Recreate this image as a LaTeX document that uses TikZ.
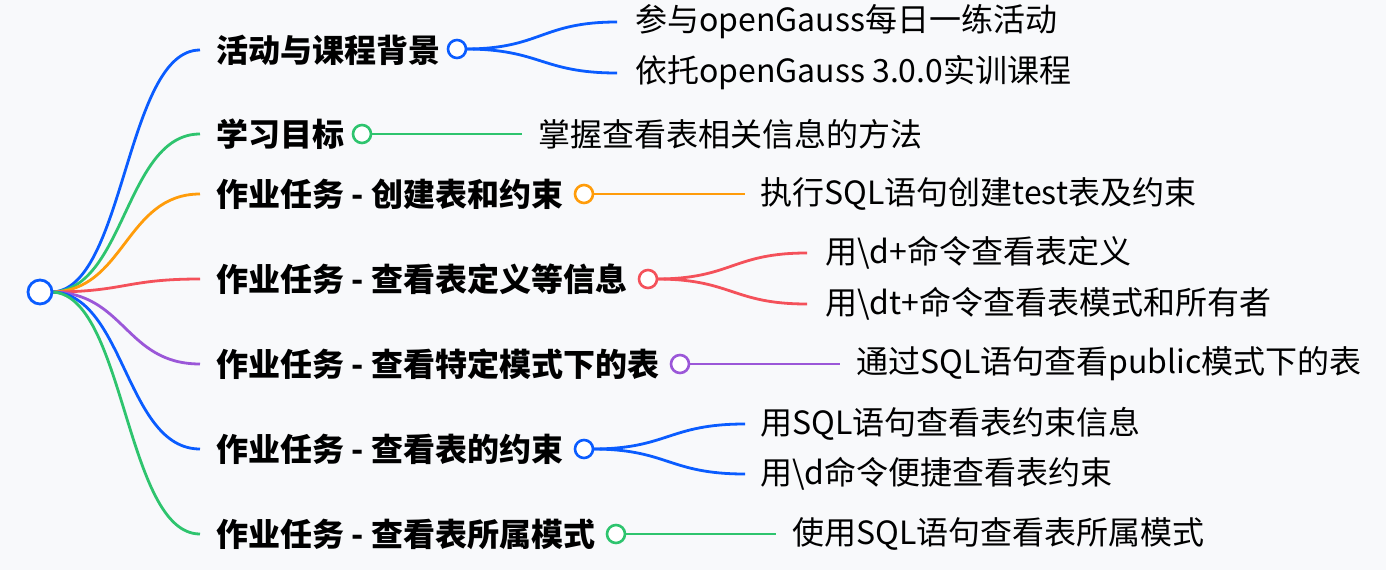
\documentclass[tikz,border=0pt]{standalone}
\usepackage{fontspec}
\setmainfont{Noto Sans CJK SC}
\definecolor{bgc}{HTML}{F8F9FB}
\definecolor{cblue}{HTML}{0A5CFF}
\definecolor{cgreen}{HTML}{2EC46E}
\definecolor{corange}{HTML}{FF9C0A}
\definecolor{cred}{HTML}{F4515A}
\definecolor{cpurple}{HTML}{9B57D8}
\begin{document}
\begin{tikzpicture}[x=1pt,y=-1pt,
  lone/.style={font=\fontsize{32}{38}\selectfont\bfseries, anchor=west, inner sep=0pt, text=black},
  ltwo/.style={font=\fontsize{32}{38}\selectfont, anchor=west, inner sep=0pt, text=black},
  dot/.style={circle, draw, fill=white, line width=2.6pt, minimum size=18pt, inner sep=0pt},
  rootdot/.style={circle, draw=cblue, fill=white, line width=2.8pt, minimum size=24pt, inner sep=0pt},
  link/.style={line width=2.8pt}]
\fill[bgc] (0,0) rectangle (1386,570);
\useasboundingbox (0,0) rectangle (1386,570);

% root
\coordinate (r) at (40,292);
\coordinate (rs) at (51,292);
% level-1 end points
\coordinate (e1) at (200,50);
\coordinate (e2) at (200,134);
\coordinate (e3) at (200,194);
\coordinate (e4) at (200,279);
\coordinate (e5) at (200,364);
\coordinate (e6) at (200,449);
\coordinate (e7) at (200,534);

\draw[link,cblue]   (rs) .. controls (125,292) and (125,50)  .. (e1);
\draw[link,cgreen]  (rs) .. controls (125,292) and (125,134) .. (e2);
\draw[link,corange] (rs) .. controls (125,292) and (125,194) .. (e3);
\draw[link,cred]    (rs) .. controls (125,292) and (125,279) .. (e4);
\draw[link,cpurple] (rs) .. controls (125,292) and (125,364) .. (e5);
\draw[link,cblue]   (rs) .. controls (125,292) and (125,449) .. (e6);
\draw[link,cgreen]  (rs) .. controls (125,292) and (125,534) .. (e7);
\node[rootdot] (root) at (r) {};

% level-1 texts
\node[lone] (t1) at (216,50)  {活动与课程背景};
\node[lone] (t2) at (216,134) {学习目标};
\node[lone] (t3) at (216,194) {作业任务 - 创建表和约束};
\node[lone] (t4) at (216,279) {作业任务 - 查看表定义等信息};
\node[lone] (t5) at (216,364) {作业任务 - 查看特定模式下的表};
\node[lone] (t6) at (216,449) {作业任务 - 查看表的约束};
\node[lone] (t7) at (216,534) {作业任务 - 查看表所属模式};

% level-2 line ends
\coordinate (f11) at (617,22);
\coordinate (f12) at (617,73);
\coordinate (f21) at (522,134);
\coordinate (f31) at (745,194);
\coordinate (f41) at (807,253);
\coordinate (f42) at (807,304);
\coordinate (f51) at (840,364);
\coordinate (f61) at (745,424);
\coordinate (f62) at (745,474);
\coordinate (f71) at (776,534);

% circles positions
\coordinate (p1) at (457,49);
\coordinate (p2) at (362,134);
\coordinate (p3) at (584,194);
\coordinate (p4) at (648,279);
\coordinate (p5) at (680,364);
\coordinate (p6) at (584,449);
\coordinate (p7) at (616,534);

\draw[link,cblue]   (p1) ++(8,0) .. controls (541,49)  and (541,22)  .. (f11);
\draw[link,cblue]   (p1) ++(8,0) .. controls (541,49)  and (541,73)  .. (f12);
\draw[link,cgreen]  (p2) -- (f21);
\draw[link,corange] (p3) -- (f31);
\draw[link,cred]    (p4) ++(8,0) .. controls (732,279) and (732,253) .. (f41);
\draw[link,cred]    (p4) ++(8,0) .. controls (732,279) and (732,304) .. (f42);
\draw[link,cpurple] (p5) -- (f51);
\draw[link,cblue]   (p6) ++(8,0) .. controls (668,449) and (668,424) .. (f61);
\draw[link,cblue]   (p6) ++(8,0) .. controls (668,449) and (668,474) .. (f62);
\draw[link,cgreen]  (p7) -- (f71);

\node[dot,draw=cblue]   (c1) at (p1) {};
\node[dot,draw=cgreen]  (c2) at (p2) {};
\node[dot,draw=corange] (c3) at (p3) {};
\node[dot,draw=cred]    (c4) at (p4) {};
\node[dot,draw=cpurple] (c5) at (p5) {};
\node[dot,draw=cblue]   (c6) at (p6) {};
\node[dot,draw=cgreen]  (c7) at (p7) {};

% level-2 texts
\node[ltwo] (u11) at (635,22)  {参与openGauss每日一练活动};
\node[ltwo] (u12) at (635,73)  {依托openGauss 3.0.0实训课程};
\node[ltwo] (u21) at (538,134) {掌握查看表相关信息的方法};
\node[ltwo] (u31) at (760,194) {执行SQL语句创建test表及约束};
\node[ltwo] (u41) at (825,253) {用\textbackslash d+命令查看表定义};
\node[ltwo] (u42) at (825,304) {用\textbackslash dt+命令查看表模式和所有者};
\node[ltwo] (u51) at (856,364) {通过SQL语句查看public模式下的表};
\node[ltwo] (u61) at (760,424) {用SQL语句查看表约束信息};
\node[ltwo] (u62) at (760,474) {用\textbackslash d命令便捷查看表约束};
\node[ltwo] (u71) at (792,534) {使用SQL语句查看表所属模式};
\end{tikzpicture}
\end{document}
